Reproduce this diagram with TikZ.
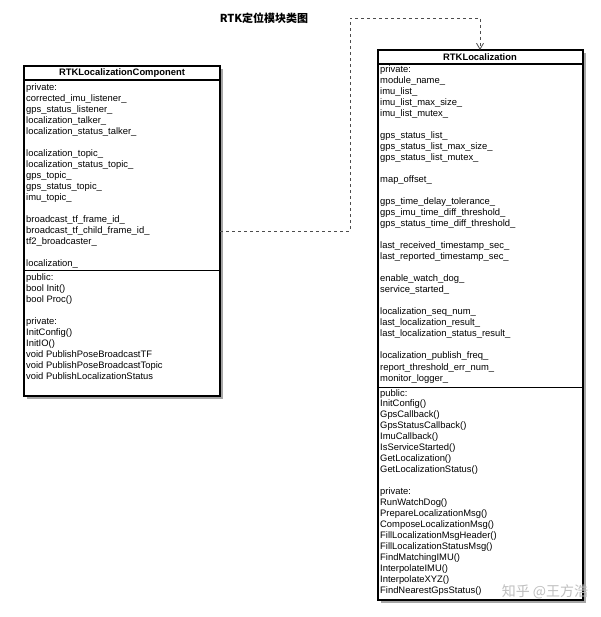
\documentclass[tikz,border=0pt]{standalone}
\usepackage{fontspec}
\setmainfont{Liberation Sans}
\newfontfamily\cjk{Noto Sans CJK SC}
\usetikzlibrary{arrows.meta}
\begin{document}
\begin{tikzpicture}[x=1pt,y=-1pt,
  box/.style={draw=black,line width=1.2pt,fill=white},
  shadowbox/.style={fill=black!35},
  sect/.style={anchor=north west,inner sep=0pt,align=left,font=\fontsize{9.4}{11.05}\selectfont},
  sectb/.style={anchor=north west,inner sep=0pt,align=left,font=\fontsize{9.4}{10.95}\selectfont},
  ttl/.style={font=\bfseries\fontsize{9.4}{10}\selectfont}]
\useasboundingbox (0,0) rectangle (600,617);
\fill[white] (0,0) rectangle (600,617);
\node[font=\cjk\bfseries\fontsize{11}{12}\selectfont] (title) at (264,18) {RTK定位模块类图};
% left box
\fill[shadowbox] (27,69) rectangle (223,399);
\draw[box] (24,66) rectangle (220,396);
\draw[line width=1.2pt] (24,80) -- (220,80);
\draw[line width=1pt] (24,270) -- (220,270);
\node[ttl] (lt) at (122,73) {RTKLocalizationComponent};
\node[sect] (l1) at (26,83) {private:\\corrected\_imu\_listener\_\\gps\_status\_listener\_\\localization\_talker\_\\localization\_status\_talker\_\\[11pt]localization\_topic\_\\localization\_status\_topic\_\\gps\_topic\_\\gps\_status\_topic\_\\imu\_topic\_\\[11pt]broadcast\_tf\_frame\_id\_\\broadcast\_tf\_child\_frame\_id\_\\tf2\_broadcaster\_\\[11pt]localization\_};
\node[sect] (l2) at (26,273) {public:\\bool Init()\\bool Proc()\\[11pt]private:\\InitConfig()\\InitIO()\\void PublishPoseBroadcastTF\\void PublishPoseBroadcastTopic\\void PublishLocalizationStatus};
\coordinate (lr) at (220,231);
% right box
\fill[shadowbox] (381,53) rectangle (586,603);
\draw[box] (378,50) rectangle (583,600);
\draw[line width=1.2pt] (378,64) -- (583,64);
\draw[line width=1pt] (378,387) -- (583,387);
\node[ttl] (rt) at (480,57) {RTKLocalization};
\node[sect] (r1) at (380,65) {private:\\module\_name\_\\imu\_list\_\\imu\_list\_max\_size\_\\imu\_list\_mutex\_\\[11pt]gps\_status\_list\_\\gps\_status\_list\_max\_size\_\\gps\_status\_list\_mutex\_\\[11pt]map\_offset\_\\[11pt]gps\_time\_delay\_tolerance\_\\gps\_imu\_time\_diff\_threshold\_\\gps\_status\_time\_diff\_threshold\_\\[11pt]last\_received\_timestamp\_sec\_\\last\_reported\_timestamp\_sec\_\\[11pt]enable\_watch\_dog\_\\service\_started\_\\[11pt]localization\_seq\_num\_\\last\_localization\_result\_\\last\_localization\_status\_result\_\\[11pt]localization\_publish\_freq\_\\report\_threshold\_err\_num\_\\monitor\_logger\_};
\node[sectb] (r2) at (380,389) {public:\\InitConfig()\\GpsCallback()\\GpsStatusCallback()\\ImuCallback()\\IsServiceStarted()\\GetLocalization()\\GetLocalizationStatus()\\[10.95pt]private:\\RunWatchDog()\\PrepareLocalizationMsg()\\ComposeLocalizationMsg()\\FillLocalizationMsgHeader()\\FillLocalizationStatusMsg()\\FindMatchingIMU()\\InterpolateIMU()\\InterpolateXYZ()\\FindNearestGpsStatus()};
\coordinate (rt0) at (480,50);
\node[font=\cjk\fontsize{14}{15}\selectfont,text=black!25] (wm) at (545,592) {知乎 @王方浩};
% connector
\draw[black!70,dashed,line width=0.8pt,-{Straight Barb[open,length=6pt,width=7pt]}] (lr) -- (350,231) -- (350,18) -- (480,18) -- (rt0);
\end{tikzpicture}
\end{document}
